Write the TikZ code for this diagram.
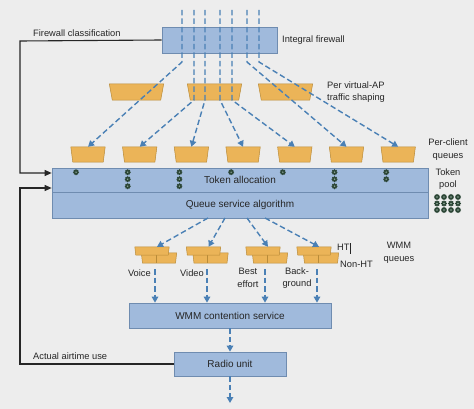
\documentclass[tikz,border=0pt]{standalone}
\usepackage{fontspec}
\setmainfont{Liberation Sans}
\usetikzlibrary{shapes.geometric,arrows.meta,calc}
\definecolor{bg}{HTML}{EDEDED}
\definecolor{bluef}{HTML}{A0BADC}
\definecolor{blued}{HTML}{6F8CB0}
\definecolor{orf}{HTML}{EBB458}
\definecolor{ord}{HTML}{B98B38}
\definecolor{dashc}{HTML}{4A80B5}
\definecolor{ink}{HTML}{262626}
\definecolor{tokc}{HTML}{2C4636}
\definecolor{tokl}{HTML}{8FA89A}
\newcommand\trapbox[2]{\filldraw[draw=ord, fill=orf, line width=0.5pt]
  (#1.north west) -- (#1.north east) -- ([xshift=-#2]#1.south east) -- ([xshift=#2]#1.south west) -- cycle;}
\begin{document}
\begin{tikzpicture}[x=1pt,y=-1pt,
  font=\fontsize{9.3}{12.5}\selectfont,
  bbox/.style={draw=blued, fill=bluef, line width=0.7pt, inner sep=0pt, text=ink,
    font=\fontsize{10}{12}\selectfont},
  oq/.style={rectangle, draw=none, inner sep=0pt, minimum width=34pt, minimum height=15pt},
  dar/.style={draw=dashc, line width=1.4pt, dash pattern=on 5.5pt off 3pt,
    -{Triangle[length=6pt,width=6.5pt]}},
  blk/.style={draw=ink, line width=1.1pt, -{Triangle[length=7pt,width=6pt]}},
  lbl/.style={inner sep=0pt, text=ink},
  tokn/.pic={\fill[tokc] (0,0) circle (2.3pt);
    \foreach \a in {0,45,...,315} \fill[tokc] (\a:2.2pt) circle (0.9pt);
    \fill[tokl] (0,0) circle (0.8pt);}
]
\fill[bg] (0,0) rectangle (474,409);
\useasboundingbox (0,0) rectangle (474,409);

% firewall
\node[bbox, minimum width=115pt, minimum height=26pt] (fw) at (219.5,40) {};
\node[lbl, anchor=west] (fwl) at (282,40) {Integral firewall};
\node[lbl, anchor=west] (fcl) at (33,33) {Firewall classification};

% shapers
\node[oq, minimum width=54pt, minimum height=16pt] (s1) at (136.5,92) {};
\node[oq, minimum width=54pt, minimum height=16pt] (s2) at (214.5,92) {};
\node[oq, minimum width=54pt, minimum height=16pt] (s3) at (285.5,92) {};
\trapbox{s1}{3pt}\trapbox{s2}{3pt}\trapbox{s3}{3pt}
\node[lbl, anchor=west, align=left] (pvl) at (327,92) {Per virtual-AP\\traffic shaping};

% per-client queues
\foreach \i in {1,...,7}{
  \node[oq] (q\i) at ({88+51.7*(\i-1)},154.5) {};
  \trapbox{q\i}{2pt}
}
\node[lbl, align=center] (pcl) at (448,149.5) {Per-client\\queues};

% token / queue service boxes
\node[bbox, minimum width=376pt, minimum height=24pt] (tok) at (240,180) {\raisebox{-2pt}{Token allocation}};
\node[bbox, minimum width=376pt, minimum height=26pt] (qsa) at (240,205) {\raisebox{-2pt}{Queue service algorithm}};
\node[lbl, align=center] (tpl) at (448,179) {Token\\pool};

% tokens
\foreach \i/\n in {1/1,2/3,3/3,4/1,5/1,6/3,7/2}
  \foreach \k in {1,...,\n}
    \pic at ($(q\i.south)+(-12,{10+7*(\k-1)})$) {tokn};
\foreach \c in {0,1,2,3}
  \foreach \r in {0,1,2}
    \pic at ({437+7*\c},{197+6.5*\r}) {tokn};

% top flows
\foreach \i/\x in {1/182,2/194,3/205,4/220,5/232,6/247,7/259}
  \coordinate (t\i) at (\x,10);
\coordinate (b1) at (182,62);
\coordinate (b2) at (194,100);
\coordinate (b3) at (205,100);
\coordinate (b4) at (220,100);
\coordinate (b5) at (232,100);
\coordinate (b6) at (247,62);
\coordinate (b7) at (259,62);
\draw[dar] (t1) -- (b1) -- (q1.north);
\draw[dar] (t2) -- (b2) -- (q2.north);
\draw[dar] (t3) -- (b3) -- (q3.north);
\draw[dar] (t4) -- (b4) -- (q4.north);
\draw[dar] (t5) -- (b5) -- (q5.north);
\draw[dar] (t6) -- (b6) -- (q6.north);
\draw[dar] (t7) -- (b7) -- (q7.north);

% WMM queues
\foreach \i/\x in {1/152,2/203.5,3/263,4/314}{
  \node[oq, minimum width=35pt, minimum height=10pt] (wl\i) at (\x+7,258) {};
  \trapbox{wl\i}{1.2pt}
  \draw[ord, line width=0.5pt] ($(wl\i.north)+(-3,0)$) -- ($(wl\i.south)+(-3,0)$);
  \node[oq, minimum width=34pt, minimum height=8pt] (wu\i) at (\x,251) {};
  \trapbox{wu\i}{1pt}
}
\foreach \i/\x in {1/208,2/225,3/247,4/265}{
  \coordinate (a\i) at (\x,218);
  \draw[dar] (a\i) -- ([xshift=5pt]wu\i.north);
}
\node[lbl, anchor=east] (vol) at (151,273) {Voice};
\node[lbl, anchor=east] (vil) at (204,273) {Video};
\node[lbl, align=center] (bel) at (248,278) {Best\\effort};
\node[lbl, align=center] (bgl) at (297,278) {Back-\\ground};
\node[lbl, anchor=west] (htl) at (337,247) {HT};
\draw[ink, line width=0.5pt] (350,243) -- (350,254);
\node[lbl, anchor=west] (nhl) at (340,264) {Non-HT};
\node[lbl, align=center] (wql) at (399,253) {WMM\\queues};

% WMM contention / radio
\node[bbox, minimum width=202pt, minimum height=25pt] (wmm) at (230,315.5) {WMM contention service};
\node[bbox, minimum width=112pt, minimum height=24pt] (rad) at (230,364) {Radio unit};
\foreach \i/\x in {1/155,2/207,3/265,4/317}{
  \coordinate (v\i) at (\x,269);
  \draw[dar] (v\i) -- (v\i |- wmm.north);
}
\draw[dar] (wmm.south) -- (rad.north);
\coordinate (out) at (230,403);
\draw[dar] (rad.south) -- (out);

% feedback lines
\coordinate (c1) at (20,41);
\coordinate (e1) at ($(tok.west)+(0,-7)$);
\coordinate (e2) at ($(tok.west)+(0,8)$);
\draw[blk] (fw.west) -- (c1) -- (c1 |- e1) -- (e1);
\draw[blk] (rad.west) -- (rad.west -| c1) -- (c1 |- e2) -- (e2);
\node[lbl, anchor=west] (aal) at (33,356) {Actual airtime use};
\end{tikzpicture}
\end{document}
